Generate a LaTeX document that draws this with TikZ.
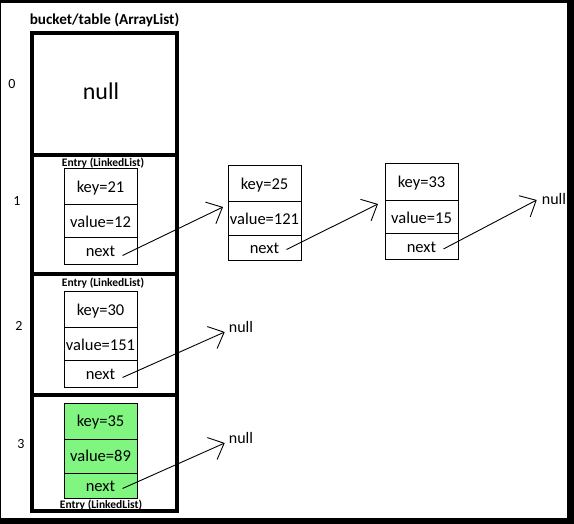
\documentclass[tikz,border=0pt]{standalone}
\usepackage{fontspec}
\setmainfont{Carlito}
\usetikzlibrary{arrows.meta}
\definecolor{entrygreen}{RGB}{128,245,128}
\begin{document}
\begin{tikzpicture}[x=1pt,y=-1pt,
  cell/.style={draw, line width=4pt, minimum width=145pt, inner sep=0, outer sep=0, anchor=north west},
  row/.style={draw, line width=1pt, minimum width=73pt, inner sep=0, outer sep=0, font=\fontsize{16.5}{16.5}\selectfont},
  lowtext/.style={text height=14.5pt, text depth=3.5pt},
  lbl/.style={inner sep=0, font=\fontsize{14}{14}\selectfont},
  nulllbl/.style={inner sep=0, font=\fontsize{16}{16}\selectfont},
  entlbl/.style={inner sep=0, font=\bfseries\fontsize{11.5}{11.5}\selectfont},
  ptr/.style={line width=0.9pt, -{Straight Barb[length=13pt,width=24pt]}}
]
\useasboundingbox (0,0) rectangle (574,524);
\fill[black] (0,0) rectangle (574,524);
\fill[white] (1,3) rectangle (567,518);

% title
\node[inner sep=0, font=\bfseries\fontsize{15.2}{15.2}\selectfont] (title) at (104.5,20) {bucket/table (ArrayList)};

% bucket cells
\node[cell, minimum height=122pt] (b0) at (32,33) {};
\node[cell, minimum height=119pt] (b1) at (32,155) {};
\node[cell, minimum height=121pt] (b2) at (32,274) {};
\node[cell, minimum height=116pt] (b3) at (32,395) {};
\node[inner sep=0, font=\fontsize{24}{24}\selectfont] (null0) at (101,91) {null};

% indices
\node[lbl] (i0) at (12,84) {0};
\node[lbl] (i1) at (17,201) {1};
\node[lbl] (i2) at (19,326) {2};
\node[lbl] (i3) at (21,444) {3};

% entry labels
\node[entlbl] (e1) at (103,163) {Entry (LinkedList)};
\node[entlbl] (e2) at (103,283) {Entry (LinkedList)};
\node[entlbl] (e3) at (101,505) {Entry (LinkedList)};

% entry in bucket 1
\node[row, lowtext, minimum height=36pt, anchor=north west] (k1) at (64,169) {key=21};
\node[row, minimum height=33pt, anchor=north] (v1) at (k1.south) {value=12};
\node[row, lowtext, minimum height=27pt, anchor=north] (n1) at (v1.south) {next};

% chained entry key=25
\node[row, lowtext, minimum height=36pt, anchor=north west] (k2) at (228,166) {key=25};
\node[row, minimum height=34pt, anchor=north] (v2) at (k2.south) {value=121};
\node[row, lowtext, minimum height=25pt, anchor=north] (n2) at (v2.south) {next};

% chained entry key=33
\node[row, lowtext, minimum height=37pt, anchor=north west] (k3) at (385,164) {key=33};
\node[row, minimum height=33pt, anchor=north] (v3) at (k3.south) {value=15};
\node[row, lowtext, minimum height=26pt, anchor=north] (n3) at (v3.south) {next};

% entry in bucket 2
\node[row, lowtext, minimum height=36pt, anchor=north west] (k4) at (64,292) {key=30};
\node[row, minimum height=33pt, anchor=north] (v4) at (k4.south) {value=151};
\node[row, lowtext, minimum height=27pt, anchor=north] (n4) at (v4.south) {next};

% entry in bucket 3 (green)
\node[row, lowtext, fill=entrygreen, minimum height=36pt, anchor=north west] (k5) at (64,403) {key=35};
\node[row, fill=entrygreen, minimum height=34pt, anchor=north] (v5) at (k5.south) {value=89};
\node[row, lowtext, fill=entrygreen, minimum height=25pt, anchor=north] (n5) at (v5.south) {next};

% null targets
\node[nulllbl] (nullA) at (554,199) {null};
\node[nulllbl] (nullB) at (241,327) {null};
\node[nulllbl] (nullC) at (241,438) {null};

% pointers
\draw[ptr] ([shift={(22,4)}]n1.center) -- ([shift={(-5,5)}]k2.south west);
\draw[ptr] ([shift={(22,1)}]n2.center) -- ([shift={(-7,3)}]k3.south west);
\draw[ptr] ([shift={(22,2)}]n3.center) -- ([shift={(-5,1)}]nullA.west);
\draw[ptr] ([shift={(22,3)}]n4.center) -- ([shift={(-4,5)}]nullB.west);
\draw[ptr] ([shift={(22,3)}]n5.center) -- ([shift={(-4,5)}]nullC.west);
\end{tikzpicture}
\end{document}
